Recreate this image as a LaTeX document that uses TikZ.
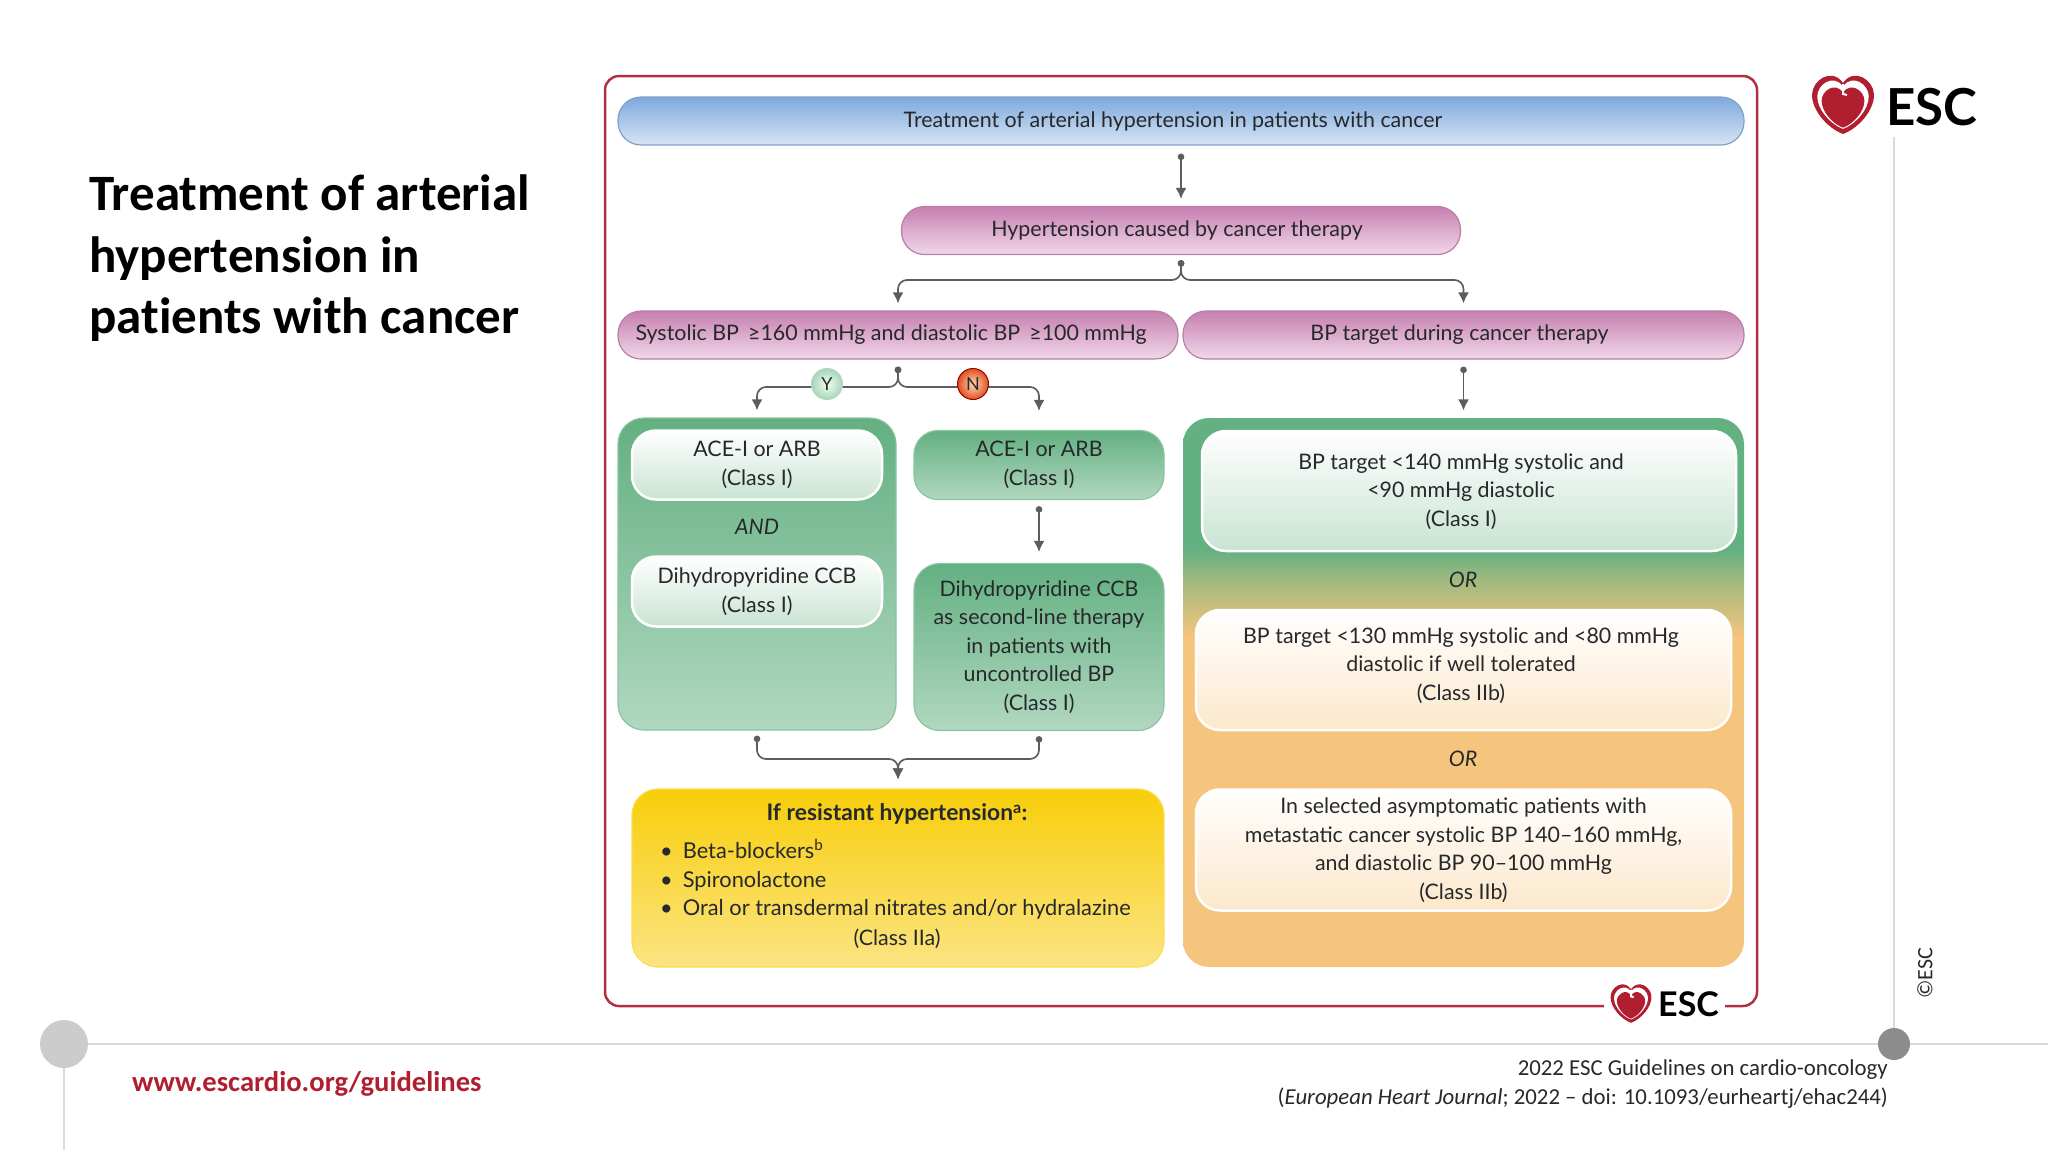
\documentclass[tikz,border=0pt]{standalone}
\usepackage{fontspec}
\setmainfont{Lato}
\newfontfamily\slidefont[Ligatures={TeX,NoCommon}]{Carlito}
\usetikzlibrary{arrows.meta,positioning,calc}
\definecolor{escred}{HTML}{B01E30}
\definecolor{framered}{HTML}{B5303F}
\definecolor{linegray}{HTML}{DADADA}
\definecolor{conngray}{HTML}{5C5D60}
\definecolor{inktext}{HTML}{26282B}
\definecolor{pgreen}{HTML}{63B081}
\definecolor{porange}{HTML}{F6C57D}
\definecolor{bluetop}{HTML}{7FA9DC}
\definecolor{bluelow}{HTML}{D6E5F5}
\definecolor{pinktop}{HTML}{C67FAF}
\definecolor{pinklow}{HTML}{F1D8EA}
\definecolor{yellowtop}{HTML}{F8CE0A}
\definecolor{yellowlow}{HTML}{FBE483}
\pgfdeclareverticalshading{rightpanelshade}{100bp}{
  color(0bp)=(porange);
  color(55bp)=(porange);
  color(60bp)=(porange!45!pgreen);
  color(63bp)=(pgreen);
  color(100bp)=(pgreen)}
\newcommand{\heartpath}{(0,30) .. controls (-16,24) and (-31,6) .. (-31,-9) .. controls (-31,-24) and (-11,-37) .. (0,-21) .. controls (11,-37) and (31,-24) .. (31,-9) .. controls (31,6) and (16,24) .. (0,30) -- cycle}
\tikzset{
tmp/.style = {coordinate},
boxtext/.style = {font=\fontsize{21.4}{28.6}\selectfont, text=inktext, align=center, inner sep=0pt},
pill/.style = {boxtext, draw, rounded corners=23pt, minimum width=#1, line width=1.2pt},
bluebar/.style = {pill=1126pt, minimum height=48pt, draw=bluetop!80!gray, top color=bluetop, bottom color=bluelow},
pinkbar/.style = {pill=#1, minimum height=48pt, draw=pinktop!80!gray, top color=pinktop, bottom color=pinklow},
panel/.style = {draw=pgreen!75!white, line width=1.2pt, rounded corners=26pt, inner sep=0pt},
greenbox/.style = {panel, top color=pgreen, bottom color=pgreen!50!white},
whitepill/.style = {pill=#1, draw=white, line width=2.5pt, rounded corners=24pt, top color=white, bottom color=pgreen!35!white},
creampill/.style = {pill=535pt, minimum height=120pt, draw=white, line width=2.5pt, rounded corners=24pt, top color=white, bottom color=porange!40!white},
choice/.style = {boxtext, font=\fontsize{21.4}{28.6}\selectfont\itshape},
conn/.style = {draw=conngray, line width=1.7pt, rounded corners=9pt, {Circle[length=6.5pt]}-{Latex[length=11pt,width=11pt]}},
yesno/.style = {circle, draw=#1, line width=1pt, minimum size=31pt, inner sep=0pt, font=\fontsize{18}{18}\selectfont, text=inktext},
escheart/.pic = {
  \fill[escred] \heartpath;
  \fill[white, scale=0.83] \heartpath;
  \fill[escred, shift={(0,3)}, scale=0.69] \heartpath;
  \draw[white, line width=2pt] (0,-20) -- (0,-10) -- (4,-9);
},
rule/.style = {draw=linegray, line width=2.5pt}
}

\begin{document}
\begin{tikzpicture}[x=1pt, y=-1pt]
  \useasboundingbox (0,0) rectangle (2048,1152);

  % slide furniture
  \coordinate (ruleleft) at (64,1044);
  \coordinate (ruleright) at (2048,1044);
  \coordinate (ruledown) at (64,1150);
  \coordinate (ruleup) at (1894,137);
  \draw [rule] (ruleleft) -- (ruleright);
  \draw [rule] (ruleleft) -- (ruledown);
  \draw [rule] (ruleup) -- (ruleup |- ruleleft);
  \node [circle, fill=gray!40, minimum size=48pt, inner sep=0pt] (dotleft) at (ruleleft) {};
  \node [circle, fill=gray!90, minimum size=32pt, inner sep=0pt] (dotright) at (1894,1044) {};

  \node [anchor=north west, align=left, inner sep=0pt, text=black, font=\slidefont\bfseries\fontsize{51}{61.5}\selectfont] (title) at (89,175) {Treatment of arterial\\hypertension in\\patients with cancer};
  \node [anchor=west, inner sep=0pt, text=escred, font=\slidefont\bfseries\fontsize{28.6}{30}\selectfont] (url) at (132,1084) {www.escardio.org/guidelines};
  \node [anchor=east, align=right, inner sep=0pt, text=inktext, font=\slidefont\fontsize{22.8}{28.7}\selectfont] (source) at (1888,1084) {2022 ESC Guidelines on cardio-oncology\\(\textit{European Heart Journal}; 2022 – doi: 10.1093/eurheartj/ehac244)};
  \node [rotate=90, inner sep=0pt, text=inktext, font=\slidefont\fontsize{22}{22}\selectfont] (copyesc) at (1925,973) {©ESC};

  \pic [scale=1] at (1843,104) {escheart};
  \node [anchor=west, inner sep=0pt, font=\bfseries\fontsize{51}{51}\selectfont, text=black] (escbig) at (1886,107) {ESC};

  % outer frame
  \coordinate (framea) at (1604,1006);
  \coordinate (frameb) at (1725,1006);
  \draw [framered, line width=2.5pt, rounded corners=14pt] (framea) -- (605,1006) -- (605,76) -- (1757,76) -- (1757,1006) -- (frameb);
  \pic [scale=0.66] at (1631,1003) {escheart};
  \node [anchor=west, inner sep=0pt, font=\bfseries\fontsize{34}{34}\selectfont, text=black] (escsmall) at (1658,1004) {ESC};

  % top of the flow
  \node [bluebar] (blue) at (1181,121) {Treatment of arterial hypertension in patients with cancer\hspace*{16pt}};
  \node [pinkbar=559pt, below of=blue, node distance=109.5pt] (hyper) {Hypertension caused by cancer therapy\hspace*{8pt}};
  \node [pinkbar=560pt] (sys) at (898,335) {Systolic BP \,≥160 mmHg and diastolic BP \,≥100 mmHg\hspace*{14pt}};
  \node [pinkbar=561pt, right of=sys, node distance=565.5pt] (bptarget) {BP target during cancer therapy\hspace*{8pt}};

  % left column
  \node [greenbox, minimum width=278pt, minimum height=312pt] (leftpanel) at (757,574) {};
  \node [whitepill=250pt, minimum height=69pt] (leftace) at (757,465) {ACE-I or ARB\\(Class I)};
  \node [choice, below of=leftace, node distance=62pt] (andword) {AND};
  \node [whitepill=250pt, minimum height=70pt, below of=leftace, node distance=126.5pt] (leftccb) {Dihydropyridine CCB\\(Class I)};

  % middle column
  \node [greenbox, minimum width=250pt, minimum height=69pt, rounded corners=24pt, boxtext] (midace) at (1039,465) {ACE-I or ARB\\(Class I)};
  \node [greenbox, minimum width=250pt, minimum height=167pt, boxtext] (midccb) at (1039,647) {Dihydropyridine CCB\\as second-line therapy\\in patients with\\uncontrolled BP\\(Class I)};

  % right column
  \node [panel, draw=none, shading=rightpanelshade, minimum width=561pt, minimum height=549pt] (rightpanel) at (1463.5,692.5) {};
  \node [whitepill=534pt, minimum height=120pt] (targeta) at (1469,491) {};
  \node [boxtext] (targetatext) at (1461,491.5) {BP target <140 mmHg systolic and\\<90 mmHg diastolic\\(Class I)};
  \node [choice] (ora) at (1463,580) {OR};
  \node [creampill] (targetb) at (1463.5,670) {};
  \node [boxtext] (targetbtext) at (1461,665.5) {BP target <130 mmHg systolic and <80 mmHg\\diastolic if well tolerated\\(Class IIb)};
  \node [choice] (orb) at (1463,759) {OR};
  \node [creampill, minimum height=121pt] (targetc) at (1463.5,850) {In selected asymptomatic patients with\\metastatic cancer systolic BP 140--160 mmHg,\\and diastolic BP 90--100 mmHg\\(Class IIb)};

  % resistant box
  \node [panel, draw=yellowtop!70!white, minimum width=532pt, minimum height=178pt, top color=yellowtop, bottom color=yellowlow] (resist) at (898,878) {};
  \node [boxtext, font=\fontsize{22.8}{28.6}\selectfont\bfseries] (resisthead) at (897,814) {If resistant hypertension\textsuperscript{a}:};
  \node [boxtext, anchor=north west, align=left, font=\fontsize{21.8}{28.6}\selectfont] (resistlist) at (660,839.5) {\textbullet\hspace{10pt}Beta-blockers\textsuperscript{b}\\\textbullet\hspace{10pt}Spironolactone\\\textbullet\hspace{10pt}Oral or transdermal nitrates and/or hydralazine};
  \node [boxtext] (resistclass) at (897,939) {(Class IIa)};

  % connectors
  \node [tmp] (forka) at (1181,280) {};
  \node [tmp] (forkb) at (898,387) {};
  \node [tmp] (forkc) at (898,759) {};

  \draw [conn, shorten <=8pt, shorten >=7pt] (blue.south) -- (hyper.north);
  \draw [conn, shorten <=5pt, shorten >=7pt] (hyper.south) -- (forka) -- (forka -| sys.north) -- (sys.north);
  \draw [conn, shorten <=5pt, shorten >=7pt] (hyper.south) -- (forka) -- (forka -| bptarget.north) -- (bptarget.north);
  \draw [conn, shorten <=7pt, shorten >=7pt] (sys.south) -- (forkb) -- (forkb -| leftpanel.north) -- (leftpanel.north);
  \draw [conn, shorten <=7pt, shorten >=19pt] (sys.south) -- (forkb) -- (forkb -| midace.north) -- (midace.north);
  \draw [conn, shorten <=7pt, shorten >=7pt] (bptarget.south) -- (rightpanel.north);
  \draw [conn, shorten <=6pt, shorten >=11pt] (midace.south) -- (midccb.north);
  \draw [conn, shorten <=5pt, shorten >=9pt] (leftpanel.south) -- (leftpanel.south |- forkc) -- (forkc) -- (resist.north);
  \draw [conn, shorten <=5pt, shorten >=9pt] (midccb.south) -- (midccb.south |- forkc) -- (forkc) -- (resist.north);

  \node [yesno=pgreen!50!white, inner color=green!6!white, outer color=pgreen!55!white] (yes) at (827,384) {Y};
  \node [yesno=red!60!black, inner color=orange!30!white, outer color=red!50!orange!75!gray] (no) at (973,384) {N};
\end{tikzpicture}
\end{document}
